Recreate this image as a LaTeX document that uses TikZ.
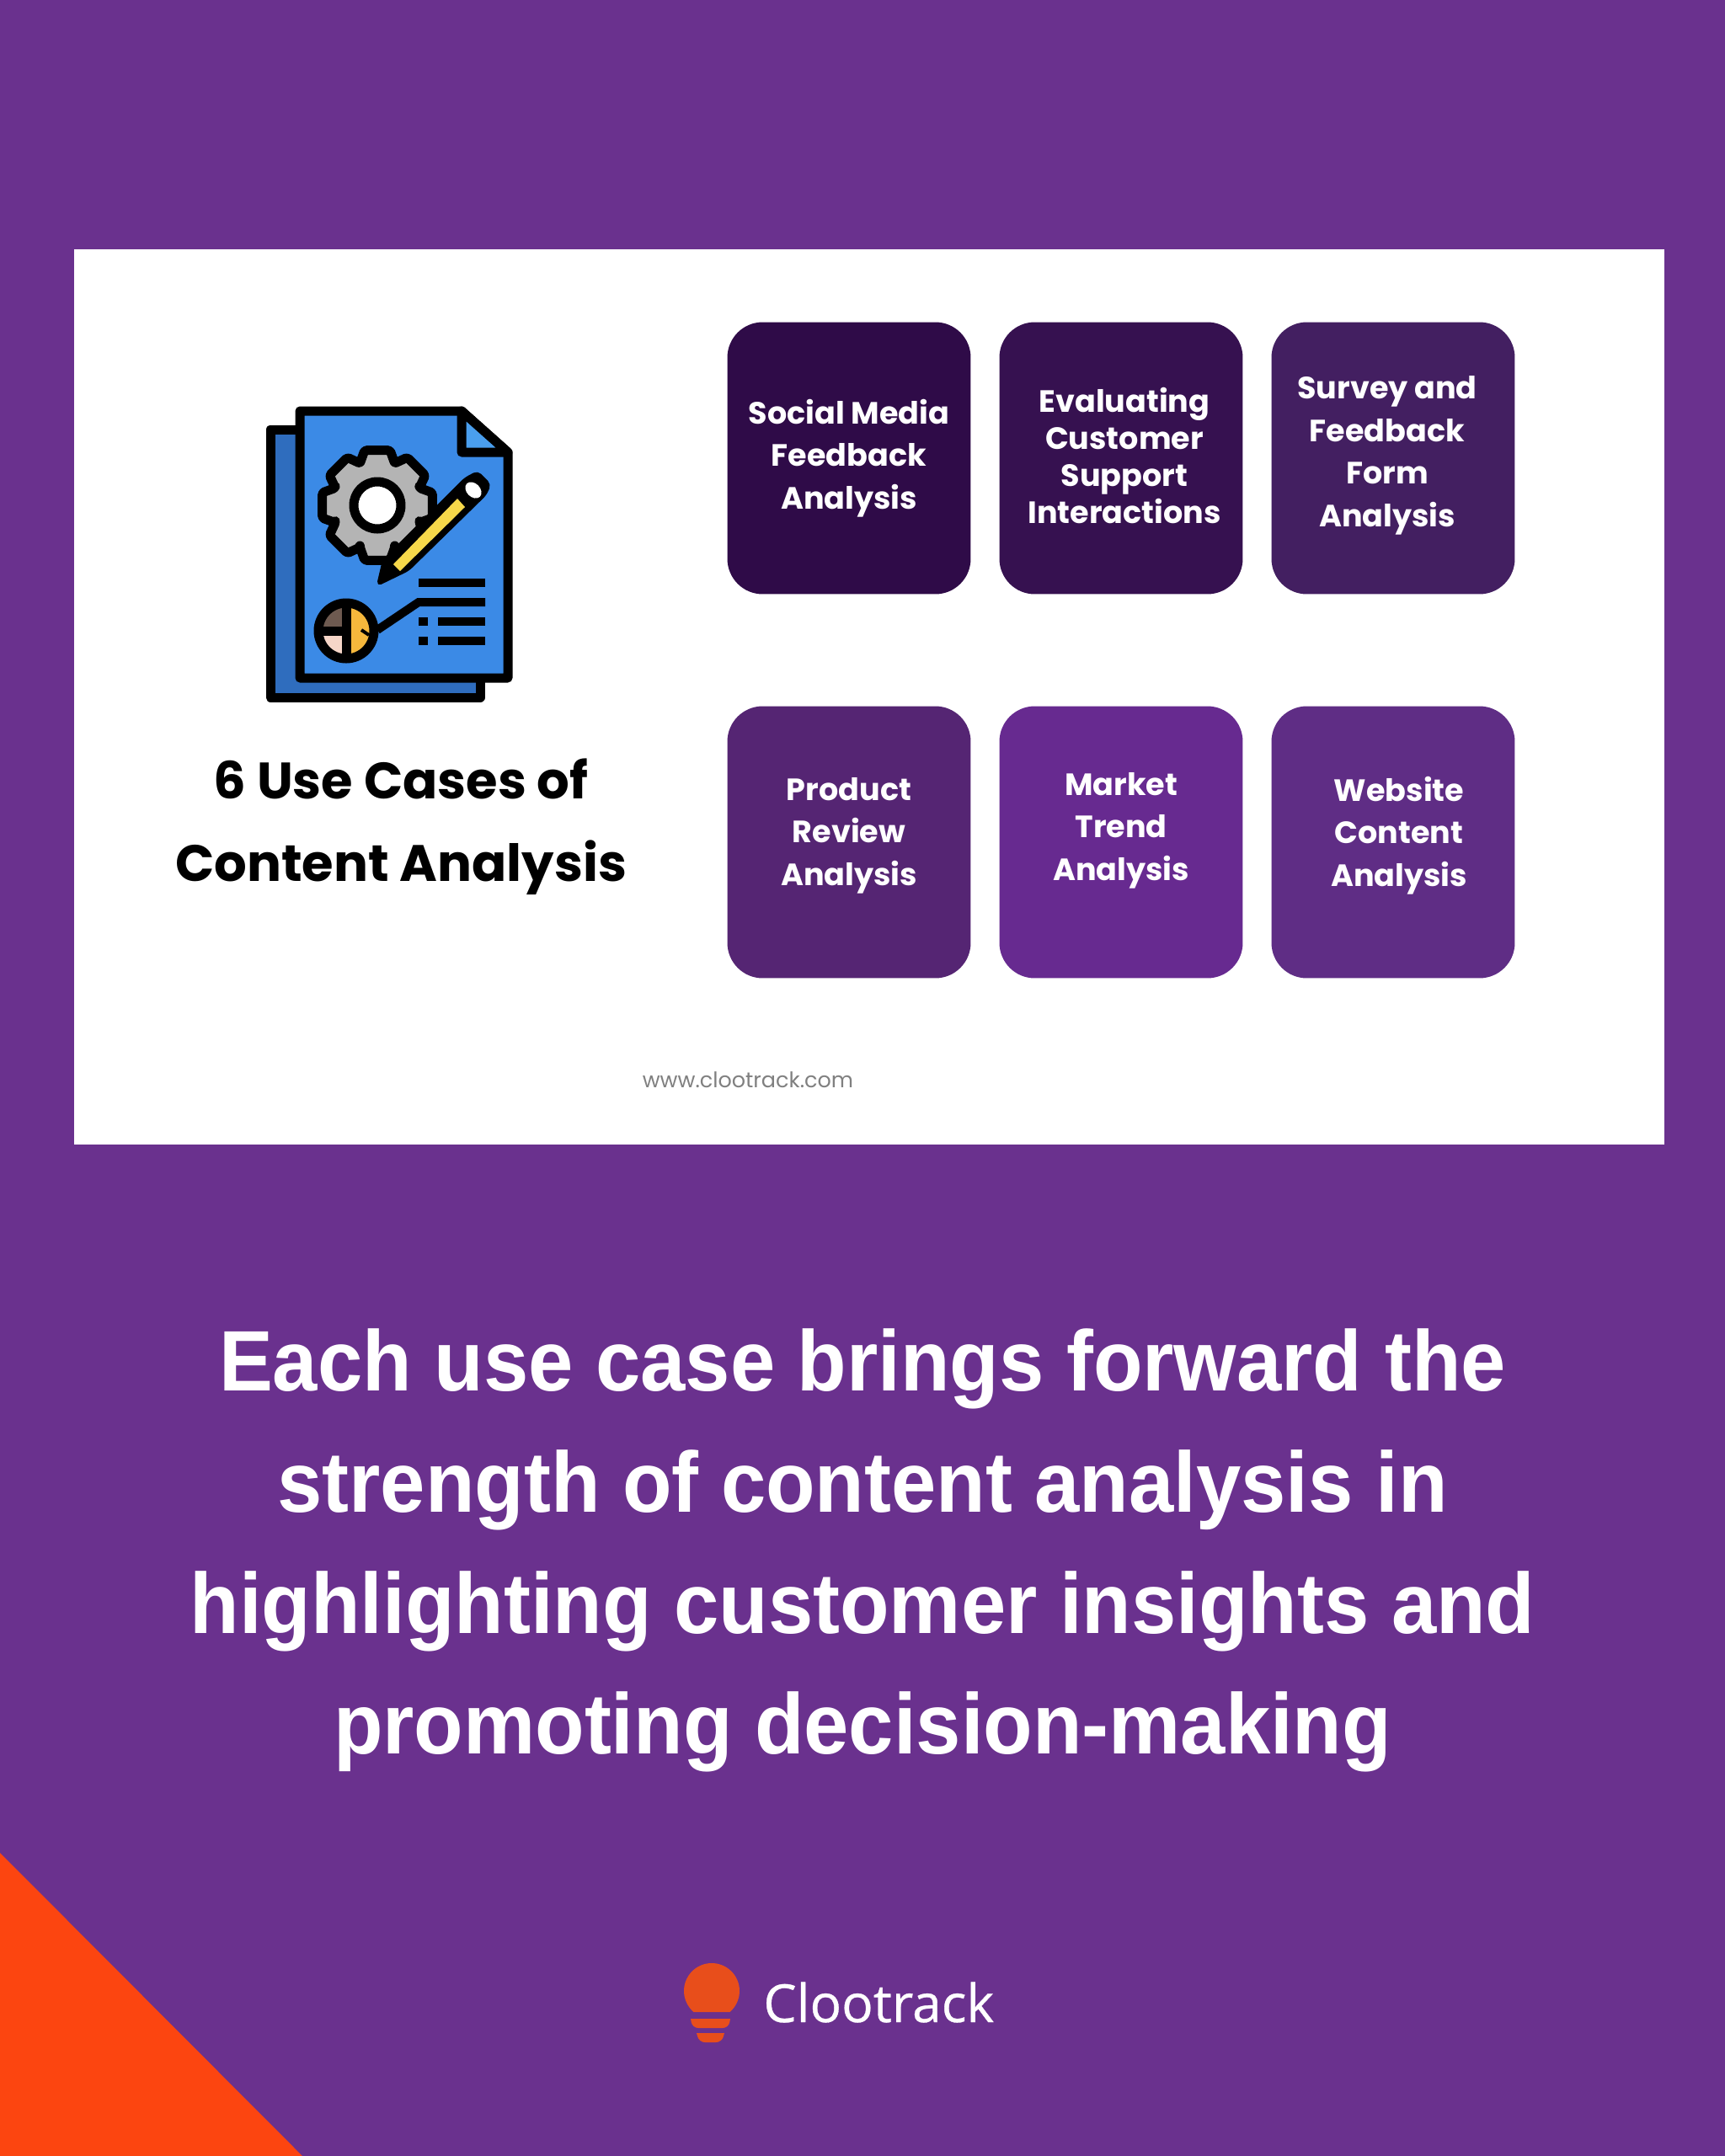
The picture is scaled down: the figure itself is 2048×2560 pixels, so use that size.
\documentclass[tikz,border=0pt]{standalone}
\usepackage{fontspec}
\setmainfont{Liberation Sans}
\newfontfamily\headfont[FakeStretch=0.94]{Liberation Sans}
\newfontfamily\boxfont{Poppins}
\newfontfamily\logofont[FakeBold=0.5]{Open Sans}
\definecolor{bgpurple}{HTML}{6A318E}
\definecolor{cornerred}{HTML}{FC4510}
\definecolor{bulbred}{HTML}{E84E1B}
\definecolor{pagefront}{HTML}{3B8AE6}
\definecolor{pageback}{HTML}{2F6DBE}
\definecolor{pagefold}{HTML}{4A9FEE}
\definecolor{geargray}{HTML}{B4B4B4}
\definecolor{penyellow}{HTML}{F6D84A}
\definecolor{piebrown}{HTML}{6E5A50}
\definecolor{piepink}{HTML}{F6D6C8}
\definecolor{pieorange}{HTML}{F6B83C}
\definecolor{boxa}{HTML}{2F0B48}
\definecolor{boxb}{HTML}{361150}
\definecolor{boxc}{HTML}{431F61}
\definecolor{boxd}{HTML}{552573}
\definecolor{boxe}{HTML}{672A90}
\definecolor{boxf}{HTML}{5F2D85}
\tikzset{
    usebox/.style={rounded corners=0.84cm, minimum width=5.78cm, minimum height=6.46cm, inner sep=0pt},
    boxtext/.style={text=white, align=center, inner sep=0pt},
    boxfonta/.style={font=\boxfont\bfseries\fontsize{20.8}{28.8}\selectfont},
    boxfontb/.style={font=\boxfont\bfseries\fontsize{20.8}{25}\selectfont},
    stroke/.style={draw=black, line width=0.22cm, line join=round},
}
\begin{document}
\begin{tikzpicture}[x=0.02cm, y=-0.02cm]
        \fill[bgpurple] (0,0) rectangle (2048,2560);
        \useasboundingbox (0,0) rectangle (2048,2560);
        \fill[cornerred] (0,2200) -- (359,2560) -- (0,2560) -- cycle;
        \fill[white] (88,296) rectangle (1976,1359);

        \draw[stroke, fill=pageback] (321,510) rectangle (570,828);
        \draw[stroke, fill=pagefront] (356,488) -- (548,488) -- (603,537) -- (603,805) -- (356,805) -- cycle;
        \draw[stroke, fill=pagefold] (548,488) -- (548,537) -- (603,537) -- cycle;
        \draw[stroke, fill=geargray, rounded corners=0.04cm, shift={(448,600)}] (-22.5:54)
            \foreach \a in {0,45,...,315} { -- (\a-22.5:54) -- (\a-13:67) -- (\a+13:67) -- (\a+22.5:54) } -- cycle;
        \draw[stroke, fill=white] (448,600) circle (28);
        \draw[black, fill=black, line width=0.04cm, line join=round, rounded corners=0.1cm] (448,695) -- (455,665) -- (552,568) -- (567,560) -- (582,575) -- (577,587) -- (485,677) -- cycle;
        \fill[penyellow] (467,670) -- (543,592) -- (552,602) -- (475,678) -- cycle;
        \fill[white, rotate around={-45:(562,582)}] (562,582) ellipse (11 and 8);
        \fill[black] (497,687) rectangle (576,697);
        \draw[black, line width=0.2cm] (448,748) -- (497,715) -- (576,715);
        \fill[black] (497,733) rectangle (508,743);
        \fill[black] (520,733) rectangle (576,743);
        \fill[black] (497,756) rectangle (508,766);
        \fill[black] (520,756) rectangle (576,766);
        \begin{scope}[shift={(411,749)}]
            \fill[piebrown] (0,0) -- (180:33) arc[start angle=180, end angle=270, radius=33] -- cycle;
            \fill[piepink] (0,0) -- (90:33) arc[start angle=90, end angle=180, radius=33] -- cycle;
            \fill[pieorange] (0,0) -- (270:33) arc[start angle=270, end angle=450, radius=33] -- cycle;
            \draw[stroke] (0,0) circle (33);
            \draw[stroke] (0,-33) -- (0,33);
            \draw[stroke] (-33,0) -- (0,0);
            \draw[black, line width=0.08cm] (18,-1) -- (27,5);
        \end{scope}

        \node[font=\boxfont\bfseries\fontsize{34.6}{55.8}\selectfont, align=center, inner sep=0pt] (title) at (476,982) {6 Use Cases of\\Content Analysis};
        \node[font=\boxfont\fontsize{14.5}{18}\selectfont, text=gray, inner sep=0pt] (site) at (888,1282) {www.clootrack.com};

        \node[usebox, fill=boxa] (b1) at (1008,544) {};
        \node[usebox, fill=boxb] (b2) at (1331,544) {};
        \node[usebox, fill=boxc] (b3) at (1654,544) {};
        \node[usebox, fill=boxd] (b4) at (1008,1000) {};
        \node[usebox, fill=boxe] (b5) at (1331,1000) {};
        \node[usebox, fill=boxf] (b6) at (1654,1000) {};

        \node[boxtext, boxfonta] (t1) at (1008,544) {Social Media\\Feedback\\Analysis};
        \node[boxtext, boxfontb] (t2) at (1335,541) {Evaluating\\Customer\\Support\\Interactions};
        \node[boxtext, boxfonta] (t3) at (1647,541) {Survey and\\Feedback\\Form\\Analysis};
        \node[boxtext, boxfonta] (t4) at (1008,992) {Product\\Review\\Analysis};
        \node[boxtext, boxfonta] (t5) at (1331,986) {Market\\Trend\\Analysis};
        \node[boxtext, boxfonta] (t6) at (1661,992) {Website\\Content\\Analysis};

        \node[font=\headfont\bfseries\fontsize{58}{81.8}\selectfont, text=white, align=center, inner sep=0pt] (headline) at (1024,1841)
            {Each use case brings forward the\\strength of content analysis in\\highlighting customer insights and\\promoting decision-making};

        \fill[bulbred] (866.5,2389) arc[start angle=49.3, end angle=-229.3, radius=33] -- cycle;
        \fill[bulbred] (820,2397) -- (867,2397) [rounded corners=0.14cm] -- (865,2408) -- (822,2408) [sharp corners] -- cycle;
        \fill[bulbred] (827,2414) -- (860,2414) [rounded corners=0.14cm] -- (857,2425) -- (830,2425) [sharp corners] -- cycle;
        \node[font=\logofont\fontsize{35.5}{40}\selectfont, text=white, anchor=base west, inner sep=0pt] (brand) at (906,2401) {Clootrack};
    \end{tikzpicture}
\end{document}
